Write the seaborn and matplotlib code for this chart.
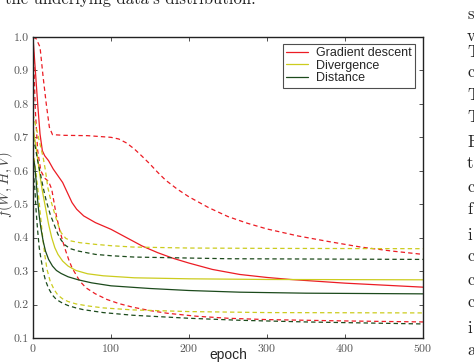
import matplotlib
matplotlib.use("Agg")
import matplotlib.pyplot as plt
import numpy as np
import pandas as pd
import seaborn as sns

# Gradient descent (solid) and its two dashed bounds
gd_epoch = [0, 3, 6, 9, 12, 15, 20, 26, 32, 38, 44, 50, 56, 65, 80, 100, 120, 140, 160, 180, 200,
            230, 265, 300, 330, 400, 450, 500]
gd_value = [1.0, 0.9, 0.8, 0.71, 0.66, 0.645, 0.63, 0.605, 0.585, 0.565, 0.535, 0.505, 0.485, 0.465,
            0.445, 0.425, 0.40, 0.375, 0.355, 0.338, 0.324, 0.305, 0.29, 0.281, 0.275, 0.264, 0.258, 0.252]
gd_hi_epoch = [0, 4, 9, 13, 17, 21, 25, 40, 70, 100, 110, 120, 130, 140, 150, 160, 170, 185, 200,
               225, 250, 275, 300, 340, 380, 420, 460, 500]
gd_hi_value = [1.0, 0.995, 0.97, 0.88, 0.80, 0.73, 0.708, 0.706, 0.705, 0.70, 0.695, 0.683, 0.665,
               0.643, 0.62, 0.595, 0.572, 0.545, 0.522, 0.49, 0.463, 0.443, 0.426, 0.405, 0.388, 0.372,
               0.36, 0.35]
gd_lo_epoch = [0, 3, 6, 10, 15, 20, 24, 27, 30, 34, 38, 42, 46, 50, 55, 60, 68, 80, 95, 110, 128, 150,
               172, 210, 250, 300, 400, 500]
gd_lo_value = [1.0, 0.78, 0.66, 0.6, 0.578, 0.568, 0.545, 0.505, 0.465, 0.425, 0.39, 0.36, 0.333, 0.31,
               0.29, 0.27, 0.25, 0.232, 0.215, 0.203, 0.192, 0.182, 0.174, 0.165, 0.159, 0.155, 0.151, 0.148]

# Divergence
div_epoch = [0, 4, 8, 12, 16, 20, 24, 28, 32, 38, 45, 55, 70, 90, 130, 200, 300, 500]
div_value = [0.73, 0.67, 0.60, 0.54, 0.49, 0.44, 0.40, 0.37, 0.35, 0.33, 0.315, 0.302, 0.292, 0.286,
             0.28, 0.277, 0.275, 0.274]
div_hi_epoch = [0, 4, 8, 13, 16, 19, 23, 28, 32, 36, 42, 49, 60, 80, 100, 128, 200, 300, 500]
div_hi_value = [0.77, 0.73, 0.69, 0.64, 0.60, 0.55, 0.51, 0.47, 0.44, 0.415, 0.398, 0.39, 0.385, 0.38,
                0.376, 0.372, 0.369, 0.368, 0.367]
div_lo_epoch = [0, 3, 6, 9, 12, 15, 18, 22, 27, 32, 38, 45, 55, 70, 90, 128, 200, 300, 500]
div_lo_value = [0.66, 0.61, 0.55, 0.48, 0.41, 0.35, 0.305, 0.27, 0.245, 0.228, 0.217, 0.209, 0.202,
                0.196, 0.19, 0.184, 0.179, 0.176, 0.175]

# Distance
dist_epoch = [0, 2, 4, 6, 8, 10, 13, 16, 20, 25, 30, 36, 45, 58, 75, 100, 150, 200, 265, 350, 500]
dist_value = [0.64, 0.62, 0.57, 0.51, 0.465, 0.43, 0.39, 0.36, 0.335, 0.315, 0.302, 0.293, 0.283,
              0.274, 0.265, 0.256, 0.248, 0.242, 0.237, 0.234, 0.232]
dist_hi_epoch = [0, 3, 6, 10, 13, 17, 22, 27, 32, 36, 41, 48, 58, 80, 100, 130, 250, 500]
dist_hi_value = [0.70, 0.67, 0.63, 0.585, 0.55, 0.51, 0.47, 0.44, 0.41, 0.393, 0.378, 0.367, 0.36,
                 0.35, 0.346, 0.342, 0.337, 0.335]
dist_lo_epoch = [0, 2, 4, 6, 8, 10, 13, 16, 20, 25, 30, 38, 45, 55, 64, 90, 128, 200, 265, 350, 500]
dist_lo_value = [0.60, 0.56, 0.48, 0.42, 0.37, 0.34, 0.30, 0.272, 0.248, 0.228, 0.215, 0.204, 0.197,
                 0.19, 0.185, 0.176, 0.168, 0.159, 0.153, 0.148, 0.142]

series_names = ["Gradient descent", "Divergence", "Distance"]
colors = ["#ec1c24", "#cccc1e", "#1c4a1c"]

sns.set_theme(style="ticks")
plt.rcParams["font.family"] = ["cmr10", "DejaVu Serif"]
plt.rcParams["mathtext.fontset"] = "cm"
plt.rcParams["axes.formatter.use_mathtext"] = True

fig = plt.figure(figsize=(4.74, 3.63), dpi=100)
ax = fig.add_axes([33 / 474, 1 - 338 / 363, 390 / 474, 301 / 363])

groups = [
    (gd_epoch, gd_value, gd_hi_epoch, gd_hi_value, gd_lo_epoch, gd_lo_value),
    (div_epoch, div_value, div_hi_epoch, div_hi_value, div_lo_epoch, div_lo_value),
    (dist_epoch, dist_value, dist_hi_epoch, dist_hi_value, dist_lo_epoch, dist_lo_value),
]

handles = []
for name, color, (e, v, eh, vh, el, vl) in zip(series_names, colors, groups):
    sns.lineplot(x=eh, y=vh, color=color, linestyle=(0, (3.5, 2.5)), linewidth=0.9, ax=ax)
    sns.lineplot(x=el, y=vl, color=color, linestyle=(0, (3.5, 2.5)), linewidth=0.9, ax=ax)
    sns.lineplot(x=e, y=v, color=color, linewidth=0.9, ax=ax)
    handles.append(plt.Line2D([], [], color=color, linewidth=0.9))

ax.set_xlim(0, 500)
ax.set_ylim(0.1, 1.0)
ax.set_xticks([0, 100, 200, 300, 400, 500])
ax.set_yticks(np.arange(0.1, 1.01, 0.1))
ax.set_yticklabels([f"{t:.1f}" for t in np.arange(0.1, 1.01, 0.1)])
ax.tick_params(direction="in", length=3, width=0.6, top=True, right=True, labelsize=8.5,
               colors="#333333", labelcolor="#555555", pad=3)
for s in ax.spines.values():
    s.set_linewidth(1.0)
    s.set_color("#222222")

ax.set_xlabel("epoch", family="Liberation Sans", fontsize=10)
ax.xaxis.set_label_coords(0.5, (338 - 348) / 301)
ax.set_ylabel("$f(W,H,V)$", fontsize=10.5, color="#444444")
ax.yaxis.set_label_coords((15 - 33) / 390, 0.51)

leg = ax.legend(handles, series_names, loc="upper right", bbox_to_anchor=(0.985, 0.985),
                prop={"family": "Liberation Sans", "size": 9}, frameon=True, fancybox=False,
                labelspacing=0.05, handlelength=1.8, handletextpad=0.6, borderpad=0.25,
                borderaxespad=0.2)
leg.get_frame().set_edgecolor("#222222")
leg.get_frame().set_linewidth(0.8)

# surrounding page text, cut off by the crop
fig.text(5 / 474, 1 - 4 / 363, "the underlying data's distribution.", fontsize=12,
         va="baseline", color="#222222")
side_letters = ["s", "v", "T", "c", "T", "T", "E", "t", "c", "f", "i", "c", "c", "c", "i", "a"]
side_y = [14, 36, 52, 72, 95, 117, 142, 163, 187, 209, 235, 256, 280, 302, 328, 350]
for ch, y in zip(side_letters, side_y):
    fig.text(467 / 474, 1 - y / 363, ch, fontsize=12, va="center", color="#222222")

fig.savefig("out.png", dpi=100)
